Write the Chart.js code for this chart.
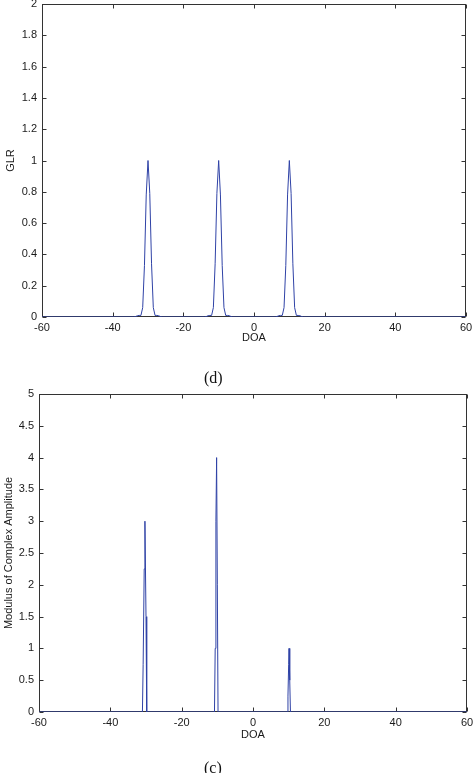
<!DOCTYPE html>
<html><head><meta charset="utf-8">
<script src="https://cdn.jsdelivr.net/npm/chart.js@4"></script>
<style>
html,body{margin:0;padding:0;background:#fff;width:474px;height:773px;overflow:hidden;}
.wrap{position:absolute;left:0;width:474px;}
.cap{position:absolute;font-family:"Liberation Serif","Times New Roman",serif;font-size:16px;color:#111;line-height:16px;}
</style></head><body>
<div class="wrap" style="top:0;height:350px"><canvas id="c1" width="474" height="350"></canvas></div>
<div class="wrap" style="top:360px;height:385px"><canvas id="c2" width="474" height="385"></canvas></div>
<div class="cap" style="left:204px;top:370px">(d)</div>
<div class="cap" style="left:204px;top:760px">(c)</div>
<script>
// ---- data ----
const doaTicks = [-60, -40, -20, 0, 20, 40, 60];
const glrTicks = [0, 0.2, 0.4, 0.6, 0.8, 1, 1.2, 1.4, 1.6, 1.8, 2];
const ampTicks = [0, 0.5, 1, 1.5, 2, 2.5, 3, 3.5, 4, 4.5, 5];

const glrDoa = [-60, -34, -33.5, -33, -32.5, -32, -31.5, -31, -30.5, -30, -29.5, -29, -28.5, -28, -27.5, -27, -26.5, -26,
  -14, -13.5, -13, -12.5, -12, -11.5, -11, -10.5, -10, -9.5, -9, -8.5, -8, -7.5, -7, -6.5, -6,
  6, 6.5, 7, 7.5, 8, 8.5, 9, 9.5, 10, 10.5, 11, 11.5, 12, 12.5, 13, 13.5, 14, 60];
const glrValue = [0, 0, 0.003, 0.008, 0.01, 0.01, 0.06, 0.33, 0.78, 1.0, 0.79, 0.34, 0.06, 0.01, 0.01, 0.008, 0.003, 0,
  0, 0.003, 0.008, 0.01, 0.01, 0.06, 0.34, 0.79, 1.0, 0.78, 0.33, 0.06, 0.01, 0.01, 0.008, 0.003, 0,
  0, 0.003, 0.008, 0.01, 0.01, 0.06, 0.33, 0.78, 1.0, 0.79, 0.34, 0.06, 0.01, 0.01, 0.008, 0.003, 0, 0];

const ampDoa = [-60, -31, -30.8, -30.5, -30.3, -30, -29.8, -10.8, -10.6, -10.4, -10.2, -10, -9.8, 9.6, 9.8, 10, 10.1, 10.3, 10.5, 60];
const ampValue = [0, 0, 0.75, 2.25, 3, 1.5, 0, 0, 1, 3, 4, 2, 0, 0, 0.25, 0.75, 1, 0.5, 0, 0];

// ---- helpers ----
const LINE = '#2f42a6';
const TXT = '#1a1a1a';
const SANS = '"Liberation Sans", Arial, sans-serif';

const boxPlugin = {
  id: 'box',
  beforeDatasetsDraw(chart) {
    const {ctx, chartArea: a, scales: {x, y}} = chart;
    ctx.save();
    ctx.strokeStyle = '#333';
    ctx.lineWidth = 1;
    const L = Math.round(a.left) + 0.5, R = Math.round(a.right) - 0.5;
    const T = Math.round(a.top) + 0.5, B = Math.round(a.bottom) - 0.5;
    ctx.strokeRect(L, T, R - L, B - T);
    ctx.beginPath();
    x.ticks.forEach(t => {
      const px = Math.round(x.getPixelForValue(t.value)) + 0.5;
      ctx.moveTo(px, B); ctx.lineTo(px, B - 4);
      ctx.moveTo(px, T); ctx.lineTo(px, T + 4);
    });
    y.ticks.forEach(t => {
      const py = Math.round(y.getPixelForValue(t.value)) + 0.5;
      ctx.moveTo(L, py); ctx.lineTo(L + 4, py);
      ctx.moveTo(R, py); ctx.lineTo(R - 4, py);
    });
    ctx.stroke();
    ctx.restore();
  }
};

function makeChart(id, xs, ys, yTicks, yTitle, opts) {
  const pts = xs.map((d, i) => ({x: d, y: ys[i]}));
  return new Chart(document.getElementById(id), {
    type: 'line',
    data: {datasets: [{data: pts, borderColor: LINE, borderWidth: 1, pointRadius: 0, tension: 0, fill: false}]},
    plugins: [boxPlugin],
    options: {
      responsive: false,
      animation: false,
      layout: {padding: {top: opts.top, right: opts.right, left: opts.left, bottom: 0}},
      plugins: {legend: {display: false}, tooltip: {enabled: false}},
      scales: {
        x: {
          type: 'linear', min: -60, max: 60,
          afterBuildTicks: s => { s.ticks = doaTicks.map(v => ({value: v})); },
          afterFit: s => { s.height = opts.xh; s.paddingLeft = 0; s.paddingRight = 0; },
          grid: {display: false, drawTicks: false},
          border: {display: false},
          ticks: {padding: 4, color: TXT, font: {family: SANS, size: 11}, maxRotation: 0, callback: v => String(v)},
          title: {display: true, text: 'DOA', color: TXT, font: {family: SANS, size: 11}, padding: {top: 0, bottom: opts.tpad}}
        },
        y: {
          type: 'linear', min: yTicks[0], max: yTicks[yTicks.length - 1],
          afterBuildTicks: s => { s.ticks = yTicks.map(v => ({value: v})); },
          afterFit: s => { s.width = opts.yw; s.paddingTop = 0; s.paddingBottom = 0; },
          grid: {display: false, drawTicks: false},
          border: {display: false},
          ticks: {padding: 5, color: TXT, font: {family: SANS, size: 11}, callback: v => String(v)},
          title: {display: true, text: yTitle, color: TXT, font: {family: SANS, size: 11}, padding: 0}
        }
      }
    }
  });
}

makeChart('c1', glrDoa, glrValue, glrTicks, 'GLR', {top: 4, left: 4, right: 8, yw: 38, xh: 33, tpad: 5});
makeChart('c2', ampDoa, ampValue, ampTicks, 'Modulus of Complex Amplitude', {top: 34, left: 2, right: 7, yw: 37, xh: 33, tpad: 3});
</script>
</body></html>
